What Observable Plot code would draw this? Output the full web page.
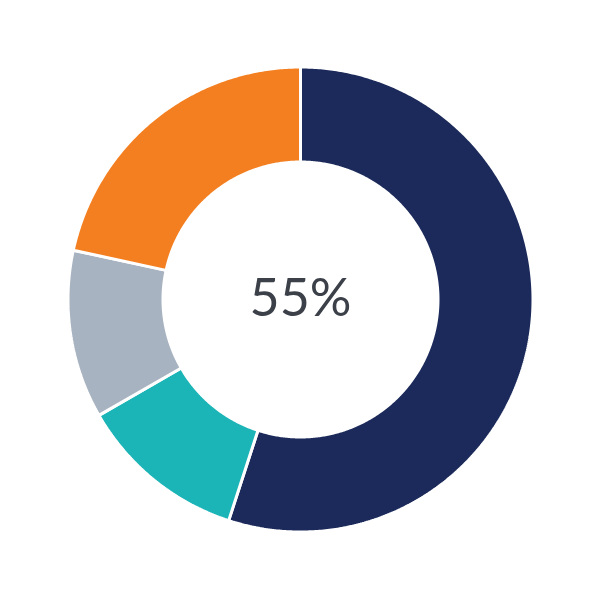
<!DOCTYPE html>
<html>
<head>
<meta charset="utf-8">
<script src="https://cdn.jsdelivr.net/npm/d3@7"></script>
<script src="https://cdn.jsdelivr.net/npm/@observablehq/plot@0.6"></script>
<style>
  html, body { margin: 0; padding: 0; background: #fff; }
</style>
</head>
<body>
<div id="chart"></div>
<script>
const categories = ["A", "B", "C", "D"];
const values = [55, 11.7, 11.7, 21.6];
const colors = ["#1b2a5a", "#1bb4b7", "#a8b3c1", "#f47f20"];
const centerLabel = "55%";

const innerRatio = 0.5914;
const pie = d3.pie().sort(null).value(d => d.value);
const arcs = pie(categories.map((c, i) => ({cat: c, value: values[i]})));

// Build polygon outlines for each slice from the pie angles
const pts = [];
for (const a of arcs) {
  const n = Math.max(4, Math.ceil((a.endAngle - a.startAngle) / (Math.PI / 360)));
  for (let k = 0; k <= n; k++) {
    const t = a.startAngle + (a.endAngle - a.startAngle) * k / n;
    pts.push({cat: a.data.cat, x: Math.sin(t), y: Math.cos(t)});
  }
  for (let k = n; k >= 0; k--) {
    const t = a.startAngle + (a.endAngle - a.startAngle) * k / n;
    pts.push({cat: a.data.cat, x: innerRatio * Math.sin(t), y: innerRatio * Math.cos(t)});
  }
}

const chart = Plot.plot({
  width: 600,
  height: 599,
  marginLeft: 67.5,
  marginRight: 67.5,
  marginTop: 66.5,
  marginBottom: 67.5,
  x: {domain: [-1, 1], axis: null},
  y: {domain: [-1, 1], axis: null},
  color: {domain: categories, range: colors},
  style: {background: "#fff"},
  marks: [
    Plot.line(pts, {x: "x", y: "y", z: "cat", fill: "cat", stroke: "white", strokeWidth: 3, curve: "linear-closed", strokeLinejoin: "miter"}),
    Plot.text([centerLabel], {x: () => 0, y: () => 0, text: d => d, fontSize: 52, fill: "#3b4049", fontFamily: "Lato", fontWeight: 400})
  ]
});
document.getElementById("chart").appendChild(chart);
</script>
</body>
</html>
